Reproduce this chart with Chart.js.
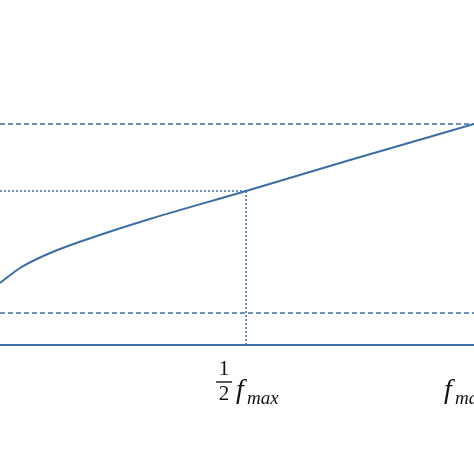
<!DOCTYPE html>
<html><head>
<script src="https://cdn.jsdelivr.net/npm/chart.js@4/dist/chart.umd.min.js"></script>
<style>html,body{margin:0;padding:0;background:#fff}#c{display:block}</style>
</head><body>
<div style="width:474px;height:474px"><canvas id="c"></canvas></div>
<script>
var curveX = [-0.04, 0.004, 0.07, 0.179, 0.289, 0.5, 0.728, 1.0];
var curveY = [62, 77, 92, 110, 126, 154, 185, 221];
var levelHigh = 221, levelLow = 32, levelHalf = 154;
var xMin = -0.04, xMax = 1.0, halfF = 0.5;
var tickLabels = [{x: 0.5, frac: true}, {x: 1.0, frac: false}];

var blue = '#3b6ea5';
function pts(xs, ys){ return xs.map(function(x,i){return {x:x,y:ys[i]};}); }

var labelPlugin = {
  id: 'flabels',
  afterDraw: function(chart){
    var ctx = chart.ctx, xs = chart.scales.x;
    ctx.save();
    ctx.fillStyle = '#111'; ctx.strokeStyle = '#111';
    tickLabels.forEach(function(t){
      var px = xs.getPixelForValue(t.x);
      var fx;
      if (t.frac) {
        ctx.font = '21px "Liberation Serif"'; ctx.textAlign = 'center';
        ctx.fillText('1', px - 22, 375);
        ctx.fillText('2', px - 22, 400);
        ctx.lineWidth = 1.4;
        ctx.beginPath(); ctx.moveTo(px - 30, 382); ctx.lineTo(px - 14, 382); ctx.stroke();
        fx = px - 10;
      } else {
        fx = px - 30;
      }
      ctx.textAlign = 'left';
      ctx.font = 'italic 28px "Liberation Serif"';
      ctx.fillText('f', fx, 398);
      ctx.font = 'italic 19px "Liberation Serif"';
      ctx.fillText('max', fx + 11, 404);
    });
    ctx.restore();
  }
};

new Chart(document.getElementById('c'), {
  type: 'line',
  data: { datasets: [
    { data: pts(curveX, curveY), borderColor: blue, borderWidth: 2, cubicInterpolationMode: 'monotone', pointRadius: 0 },
    { data: pts([xMin, xMax], [levelHigh, levelHigh]), borderColor: blue, borderWidth: 1.5, borderDash: [5,3], pointRadius: 0 },
    { data: pts([xMin, xMax], [levelLow, levelLow]), borderColor: blue, borderWidth: 1.5, borderDash: [5,3], pointRadius: 0 },
    { data: pts([xMin, halfF], [levelHalf, levelHalf]), borderColor: blue, borderWidth: 1.5, borderDash: [2,2], pointRadius: 0 },
    { data: pts([halfF, halfF], [levelHalf, 0]), borderColor: blue, borderWidth: 1.5, borderDash: [2,2], pointRadius: 0 },
    { data: pts([xMin, xMax], [0, 0]), borderColor: blue, borderWidth: 2.2, pointRadius: 0 }
  ]},
  options: {
    responsive: true, maintainAspectRatio: false, animation: false,
    layout: { padding: 0 },
    plugins: { legend: { display: false }, tooltip: { enabled: false } },
    scales: {
      x: { type: 'linear', min: xMin, max: xMax, display: false },
      y: { min: -129, max: 345, display: false }
    }
  },
  plugins: [labelPlugin]
});
</script>
</body></html>
